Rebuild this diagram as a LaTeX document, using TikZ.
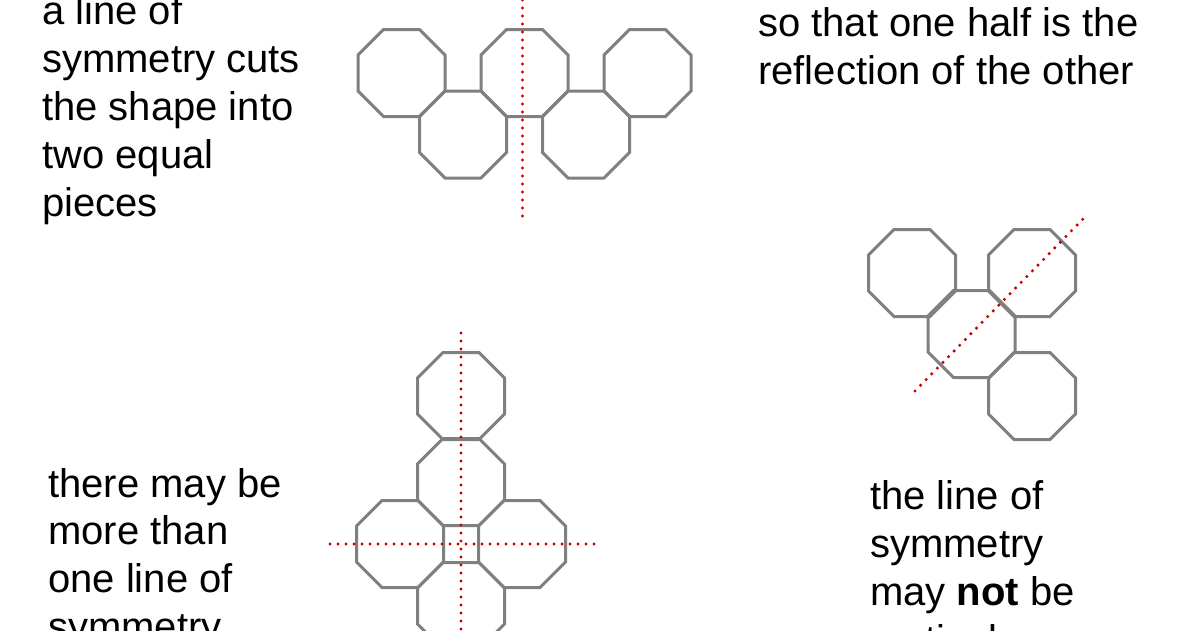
\documentclass[tikz,border=0pt]{standalone}
\usepackage{fontspec}
\setmainfont{Liberation Sans}
\begin{document}
\begin{tikzpicture}[x=1pt,y=-1pt,
  oct/.style={draw={rgb,255:red,128;green,128;blue,128},line width=3pt,line join=miter},
  sym/.style={draw={rgb,255:red,200;green,0;blue,0},line width=3.4pt,line cap=round,dash pattern=on 0pt off 8pt},
  txt/.style={anchor=base west,inner sep=0pt,font=\fontsize{40}{48}\selectfont}]
\useasboundingbox (0,0) rectangle (1200,630);
\def\w{43.5}\def\s{18}
\newcommand\octo[2]{\draw[oct] (#1-\s,#2-\w) -- (#1+\s,#2-\w) -- (#1+\w,#2-\s) -- (#1+\w,#2+\s) -- (#1+\s,#2+\w) -- (#1-\s,#2+\w) -- (#1-\w,#2+\s) -- (#1-\w,#2-\s) -- cycle;}
% top figure
\octo{401.5}{73}\octo{463}{134.5}\octo{524.5}{73}\octo{586}{134.5}\octo{647.5}{73}
\coordinate (t1) at (522.5,0); \coordinate (t2) at (522.5,217);
\draw[sym] (t1) -- (t2);
% bottom figure
\octo{461}{396}\octo{461}{482}\octo{400}{544}\octo{522}{544}\octo{461}{606}
\coordinate (v1) at (461,333); \coordinate (v2) at (461,632);
\coordinate (h1) at (330,544); \coordinate (h2) at (596,544);
\draw[sym] (v1) -- (v2);
\draw[sym] (h1) -- (h2);
% right figure
\octo{912}{273}\octo{1032}{273}\octo{971.5}{334}\octo{1032}{396}
\coordinate (d1) at (915,391); \coordinate (d2) at (1083,219);
\draw[sym] (d1) -- (d2);
% texts
\node[txt] (a1) at (42,24) {a line of};
\node[txt] (a2) at (42,72) {symmetry cuts};
\node[txt] (a3) at (42,120) {the shape into};
\node[txt] (a4) at (42,168) {two equal};
\node[txt] (a5) at (42,216) {pieces};
\node[txt] (b1) at (758,36) {so that one half is the};
\node[txt] (b2) at (758,84) {reflection of the other};
\node[txt] (c1) at (48,497) {there may be};
\node[txt] (c2) at (48,544) {more than};
\node[txt] (c3) at (48,592) {one line of};
\node[txt] (c4) at (48,640) {symmetry};
\node[txt] (d1n) at (870,509) {the line of};
\node[txt] (d2n) at (870,557) {symmetry};
\node[txt] (d3n) at (870,605) {may \textbf{not} be};
\node[txt] (d4n) at (870,653) {vertical};
\end{tikzpicture}
\end{document}
